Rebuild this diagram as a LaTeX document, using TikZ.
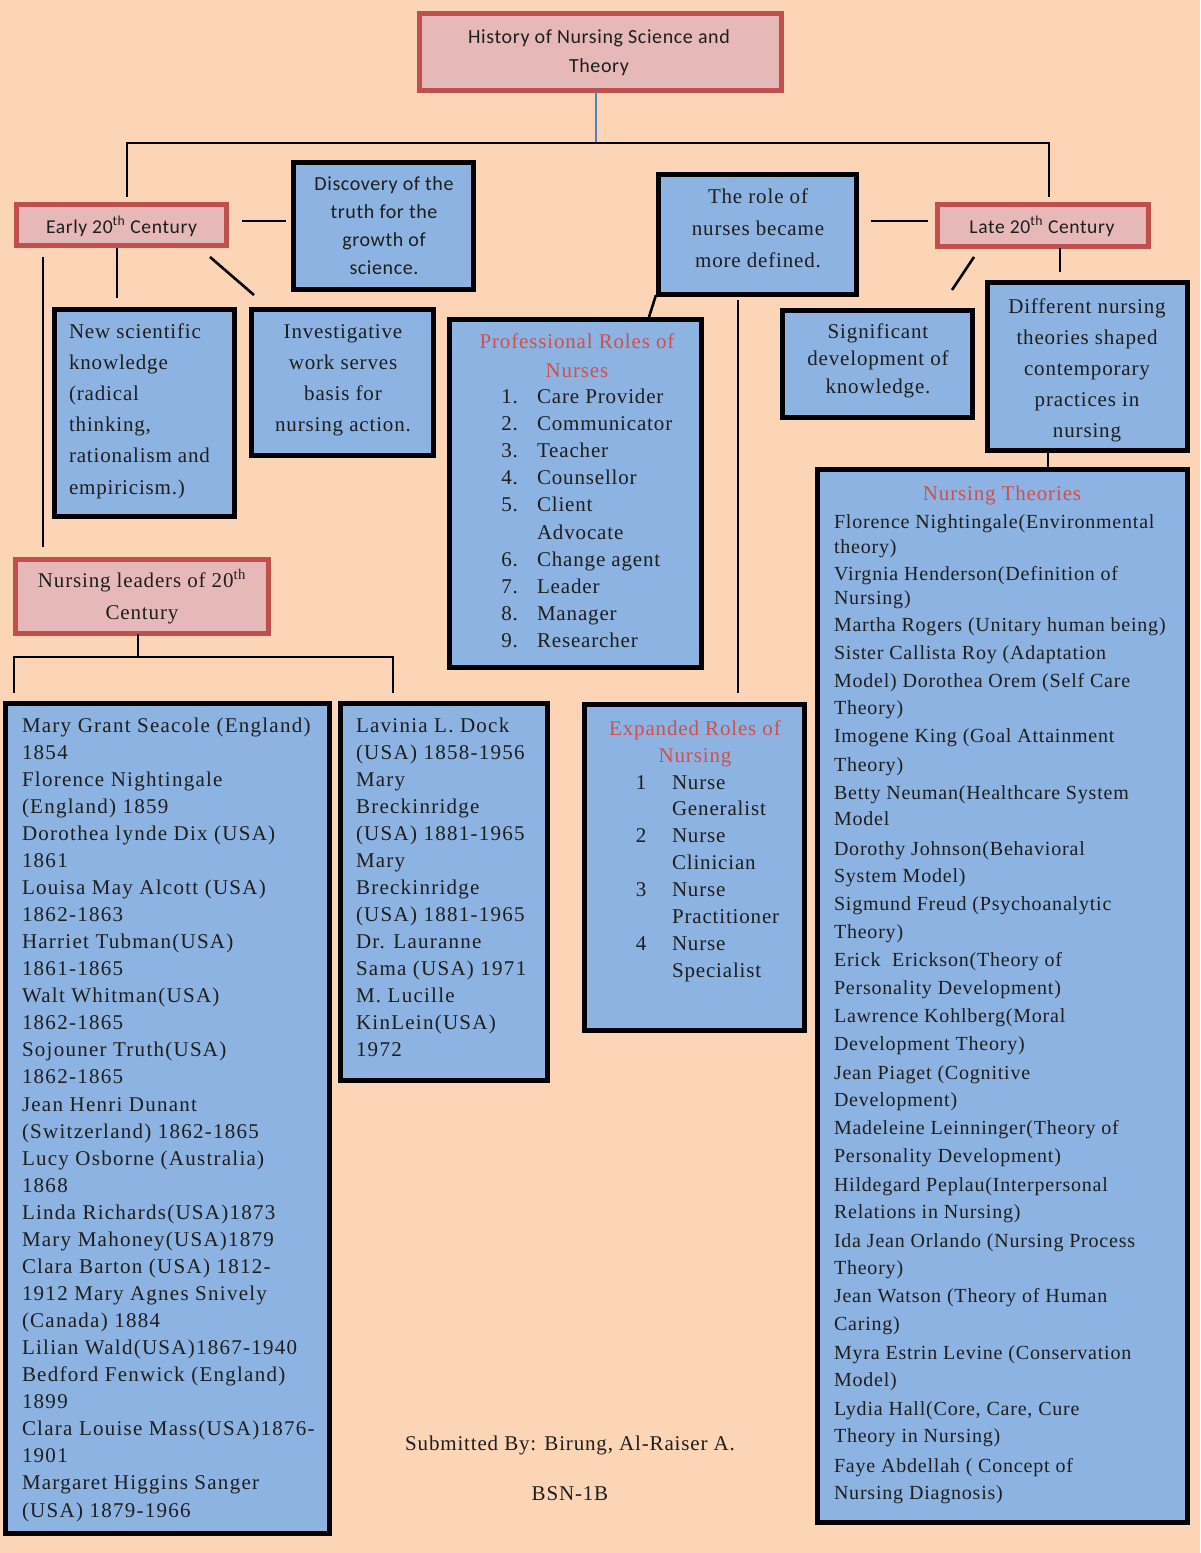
\documentclass[tikz,border=0pt]{standalone}
\usepackage{fontspec}
\newfontfamily\srf[LetterSpace=4]{Liberation Serif}
\newfontfamily\srfw[LetterSpace=6]{Liberation Serif}
\newfontfamily\sns[LetterSpace=3]{Carlito}
\definecolor{bgpeach}{HTML}{FBD5B5}
\definecolor{boxblue}{HTML}{8DB3E2}
\definecolor{boxpink}{HTML}{E6B9B8}
\definecolor{boxred}{HTML}{C0504D}
\definecolor{linkblue}{HTML}{4F81BD}
\definecolor{txt}{HTML}{1E1E1E}
\definecolor{redtxt}{HTML}{D0504D}
\newcommand\mystrut{\rule{0pt}{20pt}}
\tikzset{
  bbox/.style={draw=black, line width=5pt, fill=boxblue, inner sep=0pt, outer sep=0pt},
  pbox/.style={draw=boxred, line width=5pt, fill=boxpink, inner sep=0pt, outer sep=0pt},
  link/.style={draw=black, line width=2.6pt},
  blink/.style={draw=linkblue, line width=2.2pt},
  tx/.style={inner sep=0pt, outer sep=0pt, text=txt},
  sf/.style 2 args={font=\srf\fontsize{#1}{#2}\selectfont},
  sfw/.style 2 args={font=\srfw\fontsize{#1}{#2}\selectfont},
  ssf/.style 2 args={font=\sns\fontsize{#1}{#2}\selectfont},
}
\begin{document}
\begin{tikzpicture}[x=1pt,y=-1pt]
\useasboundingbox (0,0) rectangle (1200,1553);
\fill[bgpeach] (0,0) rectangle (1200,1553);

% ---------- boxes ----------
\node[pbox, minimum width=362pt, minimum height=77pt] (title) at (600.5,52) {};
\node[pbox, minimum width=210pt, minimum height=41pt] (early) at (121.5,225) {};
\node[pbox, minimum width=211pt, minimum height=42pt] (late) at (1043,225.5) {};
\node[bbox, minimum width=180pt, minimum height=127pt] (disc) at (383.5,226) {};
\node[bbox, minimum width=198pt, minimum height=120pt] (role) at (757.5,234.5) {};
\node[bbox, minimum width=180pt, minimum height=207pt] (newsci) at (144.5,413) {};
\node[bbox, minimum width=182pt, minimum height=146pt] (invest) at (342.5,382.5) {};
\node[bbox, minimum width=252pt, minimum height=348pt] (prof) at (575.5,493.5) {};
\node[bbox, minimum width=190pt, minimum height=107pt] (signif) at (877.5,364) {};
\node[bbox, minimum width=200pt, minimum height=168pt] (diff) at (1087.5,366.5) {};
\node[bbox, minimum width=370pt, minimum height=1053pt] (theories) at (1002.5,996) {};
\node[pbox, minimum width=253pt, minimum height=74pt] (leaders) at (142,596.5) {};
\node[bbox, minimum width=324pt, minimum height=830pt] (leftlist) at (167.5,1118.5) {};
\node[bbox, minimum width=207pt, minimum height=377pt] (rightlist) at (444,892) {};
\node[bbox, minimum width=220pt, minimum height=326pt] (expanded) at (694.5,867.5) {};

% ---------- connector end points ----------
\coordinate (hub) at (596,143);
\coordinate (hl) at (127,143);
\coordinate (hr) at (1049,143);
\coordinate (hle) at (127,197);
\coordinate (hre) at (1049,197);
\coordinate (ed1) at (242,221);   \coordinate (ed2) at (286,221);
\coordinate (en1) at (117,248);   \coordinate (en2) at (117,298);
\coordinate (ei1) at (210,257);   \coordinate (ei2) at (254,295);
\coordinate (el1) at (43,257);    \coordinate (el2) at (43,547);
\coordinate (lr1) at (928,221);   \coordinate (lr2) at (871,221);
\coordinate (ls1) at (974,257);   \coordinate (ls2) at (952,290);
\coordinate (ldf1) at (1060,248); \coordinate (ldf2) at (1060,272);
\coordinate (rp1) at (656,295);   \coordinate (rp2) at (649,317);
\coordinate (re1) at (738,300);   \coordinate (re2) at (738,693);
\coordinate (dt1) at (1048,453);  \coordinate (dt2) at (1048,468);
\coordinate (lt) at (138,657);
\coordinate (ll) at (14,657);     \coordinate (lle) at (14,693);
\coordinate (lr) at (393,657);    \coordinate (lre) at (393,693);

% ---------- connectors ----------
\draw[blink] (title.south -| hub) -- (hub);
\draw[link] (hle) -- (hl) -- (hr) -- (hre);
\draw[link] (ed1) -- (ed2);
\draw[link] (en1) -- (en2);
\draw[link] (ei1) -- (ei2);
\draw[link] (el1) -- (el2);
\draw[link] (lr1) -- (lr2);
\draw[link] (ls1) -- (ls2);
\draw[link] (ldf1) -- (ldf2);
\draw[link] (rp1) -- (rp2);
\draw[link] (re1) -- (re2);
\draw[link] (dt1) -- (dt2);
\draw[link] (leaders.south -| lt) -- (lt);
\draw[link] (lle) -- (ll) -- (lr) -- (lre);

% ---------- texts ----------
\node[tx, ssf={20}{29}, align=center, anchor=north] (titletext) at (599,23)
  {\mystrut History of Nursing Science and\\Theory};
\node[tx, ssf={19.6}{24}, align=center, anchor=north] (earlytext) at (121.5,213)
  {\mystrut Early 20\textsuperscript{th} Century};
\node[tx, ssf={19.6}{24}, align=center, anchor=north] (latetext) at (1042,213)
  {\mystrut Late 20\textsuperscript{th} Century};
\node[tx, ssf={20}{28.3}, align=center, anchor=north] (disctext) at (384,170)
  {\mystrut Discovery of the\\truth for the\\growth of\\science.};
\node[tx, sf={21}{32}, align=center, anchor=north] (roletext) at (758,183)
  {\mystrut The role of\\nurses became\\more defined.};
\node[tx, sf={21}{31.2}, align=left, anchor=north west] (newscitext) at (69,318)
  {\mystrut New scientific\\knowledge\\(radical\\thinking,\\rationalism and\\empiricism.)};
\node[tx, sf={21}{31.3}, align=center, anchor=north] (investtext) at (343,318)
  {\mystrut Investigative\\work serves\\basis for\\nursing action.};
\node[tx, sf={21}{29}, align=center, anchor=north, text=redtxt] (proftitle) at (577,328)
  {\mystrut Professional Roles of\\Nurses};
\node[tx, sf={21}{27.2}, align=right, anchor=north east] (profnum) at (518,383)
  {\mystrut 1.\\2.\\3.\\4.\\5.\\\mbox{}\\6.\\7.\\8.\\9.};
\node[tx, sf={21}{27.2}, align=left, anchor=north west] (proflist) at (537,383)
  {\mystrut Care Provider\\Communicator\\Teacher\\Counsellor\\Client\\Advocate\\Change agent\\Leader\\Manager\\Researcher};
\node[tx, sf={21}{27.5}, align=center, anchor=north] (signiftext) at (878,318)
  {\mystrut Significant\\development of\\knowledge.};
\node[tx, sf={21}{31}, align=center, anchor=north] (difftext) at (1087,293)
  {\mystrut Different nursing\\theories shaped\\contemporary\\practices in\\nursing};
\node[tx, sf={21}{27}, align=center, anchor=north, text=redtxt] (theotitle) at (1002,480)
  {\mystrut Nursing Theories};
\foreach \yy/\txtline [count=\i] in {
  528/{Florence Nightingale(Environmental},
  553/{theory)},
  580/{Virgnia Henderson(Definition of},
  604/{Nursing)},
  631/{Martha Rogers (Unitary human being)},
  659/{Sister Callista Roy (Adaptation},
  687/{Model) Dorothea Orem (Self Care},
  714/{Theory)},
  742/{Imogene King (Goal Attainment},
  771/{Theory)},
  799/{Betty Neuman(Healthcare System},
  825/{Model},
  855/{Dorothy Johnson(Behavioral},
  882/{System Model)},
  910/{Sigmund Freud (Psychoanalytic},
  938/{Theory)},
  966/{Erick\ \ Erickson(Theory of},
  994/{Personality Development)},
  1022/{Lawrence Kohlberg(Moral},
  1050/{Development Theory)},
  1079/{Jean Piaget (Cognitive},
  1106/{Development)},
  1134/{Madeleine Leinninger(Theory of},
  1162/{Personality Development)},
  1191/{Hildegard Peplau(Interpersonal},
  1218/{Relations in Nursing)},
  1247/{Ida Jean Orlando (Nursing Process},
  1274/{Theory)},
  1302/{Jean Watson (Theory of Human},
  1330/{Caring)},
  1359/{Myra Estrin Levine (Conservation},
  1386/{Model)},
  1415/{Lydia Hall(Core, Care, Cure},
  1442/{Theory in Nursing)},
  1472/{Faye Abdellah ( Concept of},
  1499/{Nursing Diagnosis)}}
  \node[tx, sf={20}{27}, anchor=base west] (theo\i) at (834,\yy) {\txtline};
\node[tx, sf={21}{32}, align=center, anchor=north] (leaderstext) at (142,567)
  {\mystrut Nursing leaders of 20\textsuperscript{th}\\Century};
\node[tx, sfw={21}{27.07}, align=left, anchor=north west] (lefttext) at (22,712)
  {\mystrut Mary Grant Seacole (England)\\1854\\Florence Nightingale\\(England) 1859\\Dorothea lynde Dix (USA)\\1861\\Louisa May Alcott (USA)\\1862-1863\\Harriet Tubman(USA)\\1861-1865\\Walt Whitman(USA)\\1862-1865\\Sojouner Truth(USA)\\1862-1865\\Jean Henri Dunant\\(Switzerland) 1862-1865\\Lucy Osborne (Australia)\\1868\\Linda Richards(USA)1873\\Mary Mahoney(USA)1879\\Clara Barton (USA) 1812-\\1912 Mary Agnes Snively\\(Canada) 1884\\Lilian Wald(USA)1867-1940\\Bedford Fenwick (England)\\1899\\Clara Louise Mass(USA)1876-\\1901\\Margaret Higgins Sanger\\(USA) 1879-1966};
\node[tx, sfw={21}{27.08}, align=left, anchor=north west] (righttext) at (356,712)
  {\mystrut Lavinia L. Dock\\(USA) 1858-1956\\Mary\\Breckinridge\\(USA) 1881-1965\\Mary\\Breckinridge\\(USA) 1881-1965\\Dr. Lauranne\\Sama (USA) 1971\\M. Lucille\\KinLein(USA)\\1972};
\node[tx, sf={21}{27}, align=center, anchor=north, text=redtxt] (exptitle) at (695,715)
  {\mystrut Expanded Roles of\\Nursing};
\node[tx, sf={21}{26.9}, align=center, anchor=north] (expnum) at (641,769)
  {\mystrut 1\\\mbox{}\\2\\\mbox{}\\3\\\mbox{}\\4};
\node[tx, sf={21}{26.9}, align=left, anchor=north west] (explist) at (672,769)
  {\mystrut Nurse\\Generalist\\Nurse\\Clinician\\Nurse\\Practitioner\\Nurse\\Specialist};
\node[tx, sf={21}{50}, align=center, anchor=north] (submitted) at (570,1430)
  {\mystrut Submitted By: Birung, Al-Raiser A.\\BSN-1B};
\end{tikzpicture}
\end{document}
